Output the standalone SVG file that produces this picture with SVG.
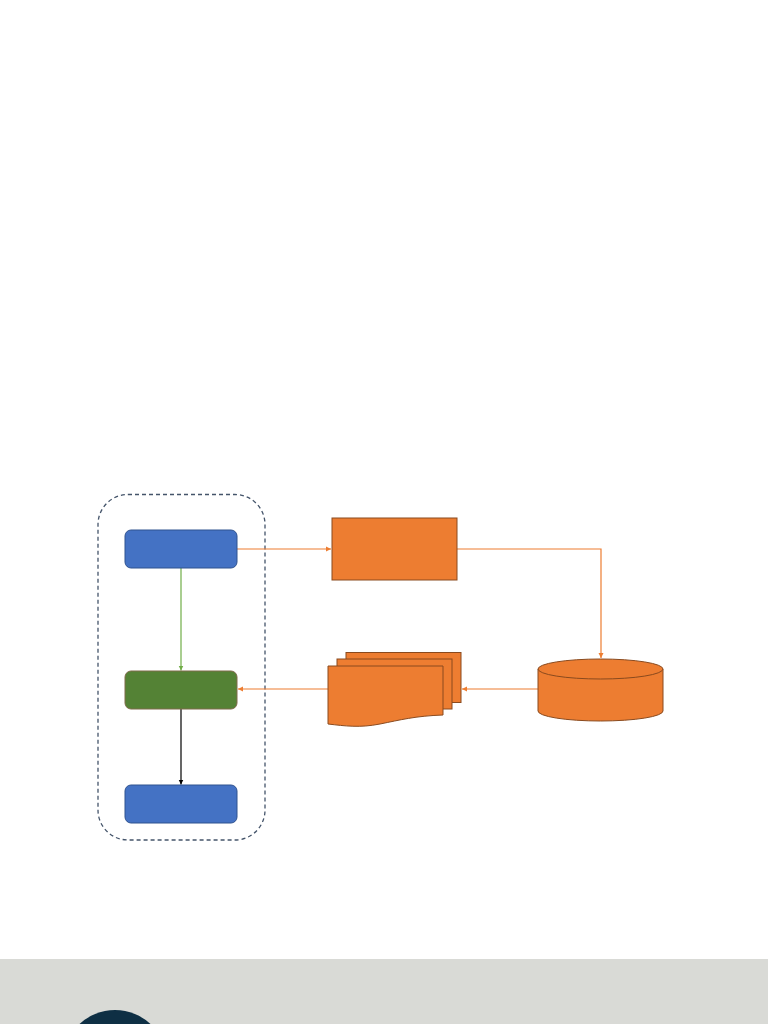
<svg xmlns="http://www.w3.org/2000/svg" width="768" height="1024" viewBox="0 0 768 1024">
<style>
.blue{fill:#4472c4;stroke:#2f528f;stroke-width:1}
.green{fill:#548235;stroke:#7f6a4a;stroke-width:1}
.orange{fill:#ed7d31;stroke:#8a4a1e;stroke-width:1}
.conn{fill:none;stroke-width:1.2}
</style>
<defs>
<marker id="ao" markerWidth="6" markerHeight="6" refX="5" refY="3" orient="auto" markerUnits="userSpaceOnUse"><path d="M0,0.5 L5,3 L0,5.5 Z" fill="#ed7d31"/></marker>
<marker id="ag" markerWidth="6" markerHeight="6" refX="5" refY="3" orient="auto" markerUnits="userSpaceOnUse"><path d="M0,0.5 L5,3 L0,5.5 Z" fill="#70ad47"/></marker>
<marker id="ak" markerWidth="6" markerHeight="6" refX="5" refY="3" orient="auto" markerUnits="userSpaceOnUse"><path d="M0,0.5 L5,3 L0,5.5 Z" fill="#000"/></marker>
</defs>
<rect width="768" height="1024" fill="#ffffff"/>
<g id="container">
<rect x="98" y="494.5" width="167" height="345.5" rx="30" ry="30" fill="none" stroke="#44546a" stroke-width="1.3" stroke-dasharray="4,3"/>
</g>
<g id="connectors">
<path class="conn" d="M237,549 H331" stroke="#ed7d31" marker-end="url(#ao)"/>
<path class="conn" d="M457,549 H601 V658" stroke="#ed7d31" marker-end="url(#ao)"/>
<path class="conn" d="M538,689 H462" stroke="#ed7d31" marker-end="url(#ao)"/>
<path class="conn" d="M328,689 H238" stroke="#ed7d31" marker-end="url(#ao)"/>
<path class="conn" d="M181,568 V670.5" stroke="#70ad47" marker-end="url(#ag)"/>
<path class="conn" d="M181,709 V784.5" stroke="#000" marker-end="url(#ak)"/>
</g>
<g id="node-blue-top"><rect class="blue" x="125" y="530" width="112" height="38" rx="6"/></g>
<g id="node-green"><rect class="green" x="125" y="671" width="112" height="38" rx="6"/></g>
<g id="node-blue-bottom"><rect class="blue" x="125" y="785" width="112" height="38" rx="6"/></g>
<g id="node-process"><rect class="orange" x="332" y="518" width="125" height="62"/></g>
<g id="node-database">
<path class="orange" d="M538,669 V711 A62.5,10 0 0 0 663,711 V669"/>
<ellipse class="orange" cx="600.5" cy="669" rx="62.5" ry="10"/>
</g>
<g id="node-documents">
<rect class="orange" x="346" y="652.5" width="115" height="50"/>
<rect class="orange" x="337" y="659" width="115" height="50"/>
<path class="orange" d="M328,666 H443 V715 C415,716 400,720 380,724 C360,728 345,726 328,724 Z"/>
</g>
<g id="footer">
<rect x="0" y="959" width="768" height="65" fill="#d9dad6"/>
<circle cx="115" cy="1062" r="52" fill="#0e2f44"/>
</g>
</svg>
